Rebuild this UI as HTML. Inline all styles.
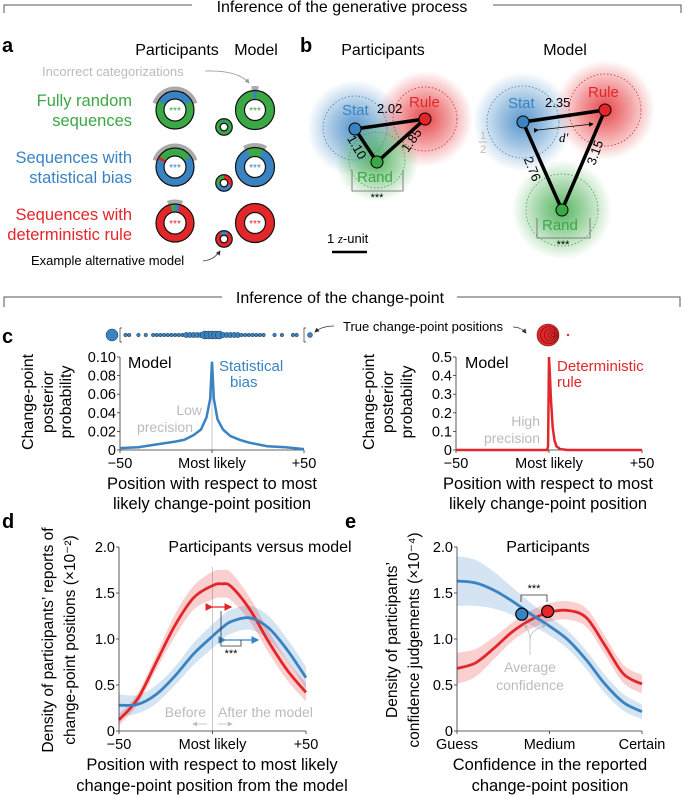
<!DOCTYPE html>
<html><head><meta charset="utf-8"><style>
html,body{margin:0;padding:0;background:#fff}
svg{display:block;font-family:"Liberation Sans",Arial,sans-serif}
</style></head><body>
<svg id="fig" width="685" height="795" viewBox="0 0 685 795">
<defs>
<radialGradient id="gb"><stop offset="0" stop-color="#3a83c3" stop-opacity="0.85"/><stop offset="0.5" stop-color="#3a83c3" stop-opacity="0.45"/><stop offset="1" stop-color="#3a83c3" stop-opacity="0"/></radialGradient>
<radialGradient id="gr"><stop offset="0" stop-color="#e3262a" stop-opacity="0.85"/><stop offset="0.5" stop-color="#e3262a" stop-opacity="0.45"/><stop offset="1" stop-color="#e3262a" stop-opacity="0"/></radialGradient>
<radialGradient id="gg"><stop offset="0" stop-color="#3aa845" stop-opacity="0.85"/><stop offset="0.5" stop-color="#3aa845" stop-opacity="0.45"/><stop offset="1" stop-color="#3aa845" stop-opacity="0"/></radialGradient>
<marker id="ah" markerWidth="6" markerHeight="6" refX="5" refY="3" orient="auto"><path d="M0,0 L6,3 L0,6 z" fill="context-stroke"/></marker>
</defs>

<g>
<path d="M4,13 V5 H192 M493,5 H681 V13" fill="none" stroke="#555" stroke-width="1"/>
<text x="342" y="12" font-size="16" text-anchor="middle">Inference of the generative process</text>
</g>
<g>
<path d="M4,307 V297 H222 M457,297 H680 V307" fill="none" stroke="#555" stroke-width="1"/>
<text x="340" y="303" font-size="16" text-anchor="middle">Inference of the change-point</text>
</g>

<g>
<text x="2" y="52" font-size="20" font-weight="bold">a</text>
<text x="177" y="55" font-size="16" text-anchor="middle">Participants</text>
<text x="256" y="55" font-size="16" text-anchor="middle">Model</text>
<text x="42" y="76" font-size="13" fill="#bbb">Incorrect categorizations</text>
<path d="M205,71 Q238,70 249,83" fill="none" stroke="#999" stroke-width="0.8" marker-end="url(#ah)"/>
<g font-size="16.5" text-anchor="end">
<text x="132" y="106" fill="#3aa845">Fully random</text>
<text x="132" y="126" fill="#3aa845">sequences</text>
<text x="132" y="163" fill="#3a83c3">Sequences with</text>
<text x="132" y="183" fill="#3a83c3">statistical bias</text>
<text x="132" y="220" fill="#e3262a">Sequences with</text>
<text x="132" y="240" fill="#e3262a">deterministic rule</text>
</g>
<text x="31" y="265" font-size="13">Example alternative model</text>
<path d="M203,261 Q214,260 220,251" fill="none" stroke="#333" stroke-width="0.8" marker-end="url(#ah)"/>
<g id="rings"></g>
</g>

<g>
<text x="300" y="52" font-size="20" font-weight="bold">b</text>
<text x="383" y="55" font-size="16" text-anchor="middle">Participants</text>
<text x="565" y="55" font-size="16" text-anchor="middle">Model</text>
<circle cx="355" cy="128" r="48" fill="url(#gb)"/>
<circle cx="425" cy="119" r="48" fill="url(#gr)"/>
<circle cx="377" cy="160" r="42" fill="url(#gg)"/>
<circle cx="523" cy="122" r="50" fill="url(#gb)"/>
<circle cx="605" cy="110" r="50" fill="url(#gr)"/>
<circle cx="562" cy="210" r="50" fill="url(#gg)"/>
<g fill="none" stroke-dasharray="1.5 2" stroke-width="0.8">
<circle cx="355" cy="128" r="32" stroke="#3a83c3"/><circle cx="425" cy="119" r="32" stroke="#e3262a"/><circle cx="377" cy="160" r="28" stroke="#3aa845"/>
<circle cx="523" cy="122" r="36" stroke="#3a83c3"/><circle cx="605" cy="110" r="36" stroke="#e3262a"/><circle cx="562" cy="210" r="36" stroke="#3aa845"/>
</g>
<path d="M355,129 L425,119 L377,162 Z" fill="none" stroke="#000" stroke-width="3.5" stroke-linejoin="round"/>
<path d="M523,122 L605,110 L562,210 Z" fill="none" stroke="#000" stroke-width="3.5" stroke-linejoin="round"/>
<g stroke="#000" stroke-width="1">
<circle cx="355" cy="129" r="6" fill="#3a83c3"/><circle cx="425" cy="119" r="6" fill="#e3262a"/><circle cx="377" cy="162" r="6" fill="#3aa845"/>
<circle cx="523" cy="122" r="6" fill="#3a83c3"/><circle cx="605" cy="110" r="6" fill="#e3262a"/><circle cx="562" cy="210" r="6" fill="#3aa845"/>
</g>
<g font-size="15">
<text x="342" y="115" fill="#3a83c3">Stat</text><text x="409" y="107" fill="#e3262a">Rule</text><text x="357" y="182" fill="#3aa845">Rand</text>
<text x="508" y="108" fill="#3a83c3">Stat</text><text x="588" y="97" fill="#e3262a">Rule</text><text x="542" y="230" fill="#3aa845">Rand</text>
<text x="377" y="113" font-size="13">2.02</text>
<text x="545" y="107" font-size="13">2.35</text>
<text x="340" y="146" font-size="13" transform="rotate(60 350 148)">1.10</text>
<text x="400" y="152" font-size="13" transform="rotate(-55 405 145)">1.85</text>
<text x="516" y="170" font-size="13" transform="rotate(68 528 170)">2.76</text>
<text x="592" y="168" font-size="13" transform="rotate(-70 592 165)">3.15</text>
</g>
<path d="M538,130 L593,124" stroke="#000" stroke-width="0.8" marker-end="url(#ah)" marker-start="url(#ah)"/>
<text x="559" y="142" font-size="13" font-style="italic" font-family="Liberation Serif,serif">d′</text>
<g fill="#bbb" font-size="11"><text x="480" y="139">1</text><line x1="479" y1="142" x2="487" y2="142" stroke="#bbb"/><text x="480" y="153">2</text></g>
<path d="M352,170 V191 H403 V170 M537,218 V238 H590 V218" fill="none" stroke="#666" stroke-width="0.8"/>
<text x="377" y="201" font-size="11" text-anchor="middle">***</text>
<text x="563" y="248" font-size="11" text-anchor="middle">***</text>
<text x="327" y="243" font-size="13">1 <tspan font-style="italic" font-family="Liberation Serif,serif">z</tspan>-unit</text>
<line x1="332" y1="252" x2="367" y2="252" stroke="#000" stroke-width="2.5"/>
</g>

<g>
<text x="2" y="343" font-size="20" font-weight="bold">c</text>
<text x="423" y="331" font-size="13" text-anchor="middle">True change-point positions</text>
<path d="M513,327 Q521,327 526,333" fill="none" stroke="#333" stroke-width="0.8" marker-end="url(#ah)"/>
<path d="M334,326 Q322,326 315,332" fill="none" stroke="#333" stroke-width="0.8" marker-end="url(#ah)"/>
<g id="dotsrow"></g>
<g id="chartC1"></g>
<g id="chartC2"></g>
</g>

<g>
<text x="2" y="528" font-size="20" font-weight="bold">d</text>
<g id="chartD"></g>
</g>
<g>
<text x="345" y="528" font-size="20" font-weight="bold">e</text>
<g id="chartE"></g>
</g>
</svg>
<script>
// ---- data ----
var cX = [-50,-40,-30,-20,-15,-10,-6,-3,-1,0,1,3,6,10,15,20,30,40,50];
var cBlue = [0.002,0.003,0.006,0.009,0.011,0.016,0.022,0.035,0.055,0.095,0.055,0.033,0.022,0.015,0.011,0.008,0.004,0.003,0.001];
var cRedX = [-50,-10,-2,-1,-0.5,0,0.5,1,2,3,4,6,10,50];
var cRed = [0,0,0,0,0.02,0.5,0.4,0.28,0.12,0.05,0.02,0.005,0,0];
var cTicksBlue = ["0","0.02","0.04","0.06","0.08","0.10"];
var cTicksRed = ["0","0.1","0.2","0.3","0.4","0.5"];
var dX = [-50,-40,-30,-20,-10,0,5,10,20,30,40,50];
var dRed = [0.12,0.35,0.75,1.15,1.45,1.58,1.6,1.57,1.32,0.97,0.66,0.42];
var dBlue = [0.28,0.29,0.40,0.60,0.84,1.03,1.12,1.19,1.23,1.12,0.88,0.58];
var dRedErr = [0.06,0.06,0.08,0.12,0.13,0.15,0.15,0.15,0.13,0.12,0.11,0.1];
var dBlueErr = [0.12,0.1,0.1,0.1,0.12,0.13,0.13,0.13,0.13,0.13,0.12,0.12];
var eX = [0,0.1,0.2,0.3,0.4,0.5,0.6,0.7,0.8,0.9,1];
var eBlue = [1.63,1.61,1.53,1.41,1.27,1.14,0.99,0.77,0.51,0.31,0.21];
var eRed = [0.68,0.74,0.9,1.08,1.21,1.29,1.31,1.23,0.93,0.62,0.51];
var eBlueErr = [0.27,0.25,0.2,0.15,0.12,0.1,0.1,0.1,0.1,0.09,0.08];
var eRedErr = [0.17,0.15,0.12,0.1,0.1,0.1,0.1,0.1,0.1,0.1,0.1];
var yTicksDE = ["0","0.5","1.0","1.5","2.0"];
var dotPositions = [-47,-45,-40,-36,-32,-30,-28,-26,-24,-22,-20,-18,-16,-14,-12,-10,-8,-6,-4,-2,0,2,4,6,8,10,12,14,16,18,20,22,24,26,28,34,38,44,46];

var NS="http://www.w3.org/2000/svg", BLUE="#3a83c3", RED="#e3262a", GREEN="#3aa845";
function el(tag, attrs, parent){var e=document.createElementNS(NS,tag);for(var k in attrs)e.setAttribute(k,attrs[k]);if(parent)parent.appendChild(e);return e;}
function smooth(pts){var d="M"+pts[0][0]+","+pts[0][1];for(var i=0;i<pts.length-1;i++){var p0=pts[i-1]||pts[i],p1=pts[i],p2=pts[i+1],p3=pts[i+2]||p2;
d+=" C"+(p1[0]+(p2[0]-p0[0])/6)+","+(p1[1]+(p2[1]-p0[1])/6)+" "+(p2[0]-(p3[0]-p1[0])/6)+","+(p2[1]-(p3[1]-p1[1])/6)+" "+p2[0]+","+p2[1];}return d;}
function lin(pts){return "M"+pts.map(function(p){return p[0]+","+p[1]}).join(" L");}

// ---- rings ----
var rg=document.getElementById("rings");
function arcPath(cx,cy,r,a0,a1){var t0=(a0-90)*Math.PI/180,t1=(a1-90)*Math.PI/180;var large=(a1-a0)>180?1:0;
return "M"+(cx+r*Math.cos(t0))+","+(cy+r*Math.sin(t0))+" A"+r+","+r+" 0 "+large+" 1 "+(cx+r*Math.cos(t1))+","+(cy+r*Math.sin(t1));}
function ring(cx,cy,R,w,base,segs,gray,name){
 var g=el("g",{},rg);
 
 
 if(gray) el("path",{d:arcPath(cx,cy,R+w/2+2.5,gray[0],gray[1]),stroke:"#aaa",fill:"none","stroke-width":4},g);
 el("circle",{cx:cx,cy:cy,r:R,fill:"none",stroke:base,"stroke-width":w},g);
 segs.forEach(function(s){el("path",{d:arcPath(cx,cy,R,s[0],s[1]),stroke:s[2],fill:"none","stroke-width":w},g);});
 el("circle",{cx:cx,cy:cy,r:R+w/2,fill:"none",stroke:"#111","stroke-width":1.2},g);
 el("circle",{cx:cx,cy:cy,r:R-w/2,fill:"#fff",stroke:"#111","stroke-width":1.2},g);
 return g;}
function stars(x,y,c){var t=el("text",{x:x,y:y+4,"font-size":10,fill:c,"text-anchor":"middle"},rg);t.textContent="***";}
ring(175,110,15,8,GREEN,[[-62,62,BLUE]],[-72,72],"ring-participants-random");stars(175,110,GREEN);
ring(175,167,15,8,BLUE,[[-55,55,GREEN],[-66,-55,RED]],[-72,72],"ring-participants-statistical");stars(175,167,BLUE);
ring(175,223,15,8,RED,[[-14,0,GREEN],[0,14,BLUE]],[-20,20],"ring-participants-rule");stars(175,223,RED);
ring(255,110,15,9,GREEN,[[-6,6,BLUE]],[-9,9],"ring-model-random");stars(255,110,GREEN);
ring(255,167,15,9,BLUE,[[-25,25,GREEN]],[-30,30],"ring-model-statistical");stars(255,167,BLUE);
ring(255,223,15,9,RED,[],null,"ring-model-rule");stars(255,223,RED);
ring(224,127,6,4.5,GREEN,[[-8,8,BLUE]],null,"ring-alt-random");
ring(224,183,6,4.5,GREEN,[[0,110,RED],[110,250,BLUE]],null,"ring-alt-statistical");
ring(224,239,6,4.5,RED,[[-30,30,BLUE]],null,"ring-alt-rule");

// ---- dots row ----
var dr=document.getElementById("dotsrow");
var dx=function(v){return 212+v*1.84;};
dotPositions.forEach(function(v){var r=Math.abs(v)<5?4:(Math.abs(v)<15?2.6:1.8);
 var c=el("circle",{cx:dx(v),cy:335,r:r,fill:BLUE,stroke:"#234","stroke-width":0.5},dr);
 });
el("circle",{cx:112,cy:335,r:6,fill:BLUE,stroke:"#234","stroke-width":0.5},dr);
el("circle",{cx:310,cy:335,r:2.5,fill:BLUE,stroke:"#234","stroke-width":0.5},dr);
el("path",{d:"M120,328 h2 M120,328 v14 h2 M306,328 h-2 v14 h2",fill:"none",stroke:"#333","stroke-width":0.7},dr);
[11,8.5,6,3.5,1.8].forEach(function(r,i){el("circle",{cx:548+i*1.2,cy:335,r:r,fill:RED,stroke:"#611","stroke-width":0.6},dr);});
el("circle",{cx:568,cy:335,r:1.2,fill:RED},dr);

// ---- generic axis ----
function axes(g,x0,x1,y0,y1,yt,xt,fs){
 var ax=el("path",{d:"M"+x0+","+y1+" V"+y0+" H"+x1,fill:"none",stroke:"#333","stroke-width":0.8},g);
 
 yt.forEach(function(t,i){var y=y0+(y1-y0)*i/(yt.length-1);
  el("line",{x1:x0-3,x2:x0,y1:y,y2:y,stroke:"#333","stroke-width":0.8},g);
  var tx=el("text",{x:x0-4,y:y+5,"font-size":fs,"text-anchor":"end"},g);tx.textContent=t;
  });
 xt.forEach(function(t,i){var x=x0+(x1-x0)*i/(xt.length-1);
  el("line",{x1:x,x2:x,y1:y0,y2:y0+3,stroke:"#333","stroke-width":0.8},g);
  var tx=el("text",{x:x,y:y0+18,"font-size":fs,"text-anchor":"middle"},g);tx.textContent=t;
  });}
function txt(g,x,y,s,fs,attrs,name){var a={x:x,y:y,"font-size":fs};for(var k in attrs)a[k]=attrs[k];var t=el("text",a,g);t.textContent=s;
 return t;}

// ---- chart c1 ----
(function(){var g=document.getElementById("chartC1");var x0=120,x1=304,y0=450,y1=357;
 var X=function(v){return x0+(v+50)/100*(x1-x0);},Y=function(v){return y0-(v/0.1)*(y0-y1);};
 el("line",{x1:X(0),x2:X(0),y1:y0,y2:y1+15,stroke:"#bbb","stroke-width":0.8},g);
 axes(g,x0,x1,y0,y1,cTicksBlue,["−50","Most likely","+50"],14.5);
 var p=el("path",{d:lin(cX.map(function(v,i){return [X(v),Y(cBlue[i])]})),fill:"none",stroke:BLUE,"stroke-width":2.5},g);
 
 txt(g,128,368,"Model",16,{},"model-label");
 txt(g,219,371,"Statistical",15,{fill:BLUE},"series-label");txt(g,230,387,"bias",15,{fill:BLUE},"series-label");
 txt(g,202,415,"Low",14,{fill:"#bbb","text-anchor":"end"},"annotation");txt(g,193,432,"precision",14,{fill:"#bbb","text-anchor":"end"},"annotation");
 var yl=["Change-point","posterior","probability"];[33,53,71].forEach(function(x,i){txt(g,x,402,yl[i],16,{"text-anchor":"middle",transform:"rotate(-90 "+x+" 402)"},"y-axis-title");});
 txt(g,212,489,"Position with respect to most",16.5,{"text-anchor":"middle"},"x-axis-title");
 txt(g,212,509,"likely change-point position",16.5,{"text-anchor":"middle"},"x-axis-title");})();

// ---- chart c2 ----
(function(){var g=document.getElementById("chartC2");var x0=456,x1=642,y0=450,y1=357;
 var X=function(v){return x0+(v+50)/100*(x1-x0);},Y=function(v){return y0-(v/0.5)*(y0-y1);};
 axes(g,x0,x1,y0,y1,cTicksRed,["−50","Most likely","+50"],14.5);
 var p=el("path",{d:lin(cRedX.map(function(v,i){return [X(v),Y(cRed[i])]})),fill:"none",stroke:RED,"stroke-width":2.5},g);
 
 txt(g,465,368,"Model",16,{},"model-label");
 txt(g,557,371,"Deterministic",15,{fill:RED},"series-label");txt(g,557,387,"rule",15,{fill:RED},"series-label");
 txt(g,540,426,"High",14,{fill:"#bbb","text-anchor":"end"},"annotation");txt(g,540,443,"precision",14,{fill:"#bbb","text-anchor":"end"},"annotation");
 var yl=["Change-point","posterior","probability"];[374,393,412].forEach(function(x,i){txt(g,x,402,yl[i],16,{"text-anchor":"middle",transform:"rotate(-90 "+x+" 402)"},"y-axis-title");});
 txt(g,548,489,"Position with respect to most",16.5,{"text-anchor":"middle"},"x-axis-title");
 txt(g,548,509,"likely change-point position",16.5,{"text-anchor":"middle"},"x-axis-title");})();

function band(g,xs,ys,es,X,Y,color,name){
 var up=xs.map(function(v,i){return [X(v),Y(ys[i]+es[i])]}),lo=xs.map(function(v,i){return [X(v),Y(ys[i]-es[i])]}).reverse();
 var d=smooth(up)+" L"+smooth(lo).slice(1)+" Z";var p=el("path",{d:d,fill:color,"fill-opacity":0.22,stroke:"none"},g);
 }
function curve(g,xs,ys,X,Y,color,name){var p=el("path",{d:smooth(xs.map(function(v,i){return [X(v),Y(ys[i])]})),fill:"none",stroke:color,"stroke-width":2.8},g);
 }

// ---- chart d ----
(function(){var g=document.getElementById("chartD");var x0=119,x1=306,y0=731,y1=547;
 var X=function(v){return x0+(v+50)/100*(x1-x0);},Y=function(v){return y0-(v/2)*(y0-y1);};
 el("line",{x1:X(0),x2:X(0),y1:y0,y2:y1+20,stroke:"#bbb","stroke-width":0.8},g);
 band(g,dX,dBlue,dBlueErr,X,Y,BLUE,"model-band");band(g,dX,dRed,dRedErr,X,Y,RED,"participants-band");
 curve(g,dX,dRed,X,Y,RED,"participants-curve");curve(g,dX,dBlue,X,Y,BLUE,"model-curve");
 axes(g,x0,x1,y0,y1,yTicksDE,["−50","Most likely","+50"],14.5);
 el("path",{d:"M212,607 H231",stroke:RED,"stroke-width":1.3,"marker-end":"url(#ah)","marker-start":"url(#ah)"},g);
 el("path",{d:"M225,640 H258",stroke:BLUE,"stroke-width":1.3,"marker-end":"url(#ah)","marker-start":"url(#ah)"},g);
 el("path",{d:"M221,611 V646 H241 V640",fill:"none",stroke:"#333","stroke-width":0.8},g);
 txt(g,231,657,"***",11,{"text-anchor":"middle"},"significance-stars");
 txt(g,206,717,"Before",14,{fill:"#bbb","text-anchor":"end"},"annotation");txt(g,218,717,"After the model",14,{fill:"#bbb"},"annotation");
 el("path",{d:"M207,724 H193",stroke:"#bbb","stroke-width":0.8,"marker-end":"url(#ah)"},g);
 el("path",{d:"M218,724 H232",stroke:"#bbb","stroke-width":0.8,"marker-end":"url(#ah)"},g);
 txt(g,260,552,"Participants versus model",16,{"text-anchor":"middle"},"chart-title");
 txt(g,53,640,"Density of participants’ reports of",15.5,{"text-anchor":"middle",transform:"rotate(-90 53 640)"},"y-axis-title");
 txt(g,75,640,"change-point positions (×10⁻²)",15.5,{"text-anchor":"middle",transform:"rotate(-90 75 640)"},"y-axis-title");
 txt(g,212,770,"Position with respect to most likely",16.5,{"text-anchor":"middle"},"x-axis-title");
 txt(g,212,791,"change-point position from the model",16.5,{"text-anchor":"middle"},"x-axis-title");})();

// ---- chart e ----
(function(){var g=document.getElementById("chartE");var x0=457,x1=642,y0=731,y1=547;
 var X=function(v){return x0+v*(x1-x0);},Y=function(v){return y0-(v/2)*(y0-y1);};
 band(g,eX,eBlue,eBlueErr,X,Y,BLUE,"blue-band");band(g,eX,eRed,eRedErr,X,Y,RED,"red-band");
 curve(g,eX,eRed,X,Y,RED,"red-curve");curve(g,eX,eBlue,X,Y,BLUE,"blue-curve");
 axes(g,x0,x1,y0,y1,yTicksDE,["Guess","Medium","Certain"],14.5);
 var c1=el("circle",{cx:X(0.35),cy:Y(1.27),r:6,fill:BLUE,stroke:"#000","stroke-width":1.2},g);
 var c2=el("circle",{cx:X(0.49),cy:Y(1.3),r:6,fill:RED,stroke:"#000","stroke-width":1.2},g);
 el("path",{d:"M521,602 V595 H547 V602",fill:"none",stroke:"#333","stroke-width":0.8},g);
 txt(g,534,592,"***",11,{"text-anchor":"middle"},"significance-stars");
 el("path",{d:"M530,655 V640 Q530,630 524,625",fill:"none",stroke:"#bbb","stroke-width":0.8,"marker-end":"url(#ah)"},g);
 el("path",{d:"M530,640 Q530,630 546,625",fill:"none",stroke:"#bbb","stroke-width":0.8,"marker-end":"url(#ah)"},g);
 txt(g,530,672,"Average",14,{fill:"#bbb","text-anchor":"middle"},"annotation");
 txt(g,530,690,"confidence",14,{fill:"#bbb","text-anchor":"middle"},"annotation");
 txt(g,548,552,"Participants",16,{"text-anchor":"middle"},"chart-title");
 txt(g,397,640,"Density of participants’",15.5,{"text-anchor":"middle",transform:"rotate(-90 397 640)"},"y-axis-title");
 txt(g,419,640,"confidence judgements (×10⁻⁴)",15.5,{"text-anchor":"middle",transform:"rotate(-90 419 640)"},"y-axis-title");
 txt(g,550,770,"Confidence in the reported",16.5,{"text-anchor":"middle"},"x-axis-title");
 txt(g,550,791,"change-point position",16.5,{"text-anchor":"middle"},"x-axis-title");})();
</script>
</body></html>
